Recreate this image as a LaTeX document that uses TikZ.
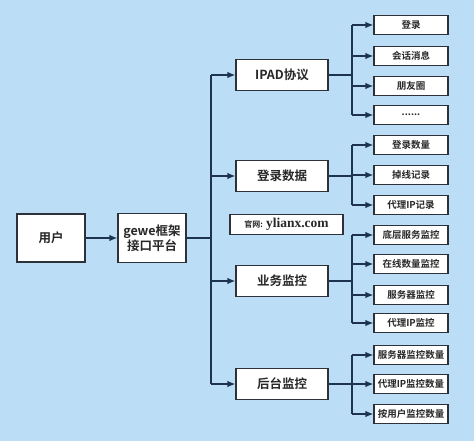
\documentclass[tikz,border=0pt]{standalone}
\usepackage{fontspec}
\newfontfamily\cjk{Noto Sans CJK SC}[BoldFont={Noto Sans CJK SC Bold}]
\usetikzlibrary{arrows.meta}
\definecolor{bg}{RGB}{187,221,246}
\definecolor{ln}{RGB}{30,52,78}
\definecolor{bd}{RGB}{45,50,58}
\definecolor{tx}{RGB}{40,40,40}
\begin{document}
\begin{tikzpicture}[x=1pt,y=-1pt,
  box/.style={draw=bd,line width=1.2pt,fill=white,inner sep=0pt,text=tx,font=\cjk\bfseries,align=center},
  bigbox/.style={box,minimum width=68pt,minimum height=48pt,font=\cjk\bfseries\fontsize{12.5}{15}\selectfont},
  midbox/.style={box,minimum width=92pt,minimum height=31pt,font=\cjk\bfseries\fontsize{12.5}{14}\selectfont},
  leaf/.style={box,minimum width=74pt,minimum height=19pt,font=\cjk\bfseries\fontsize{9.5}{11}\selectfont},
  wire/.style={draw=ln,line width=1.3pt},
  arr/.style={wire,-{Latex[length=8pt,width=6.5pt]}}]
\fill[bg] (0,0) rectangle (474,441);
\useasboundingbox (0,0) rectangle (474,441);
% level 1
\node[bigbox] (user) at (51,238) {用户};
\node[bigbox,minimum height=49pt] (gewe) at (152,238) {gewe框架\\接口平台};
% level 2
\node[midbox] (ipad) at (282,75) {IPAD协议};
\node[midbox] (login) at (282,176) {登录数据};
\node[midbox] (biz) at (282,281) {业务监控};
\node[midbox] (back) at (282,384) {后台监控};
\node[box,minimum width=113pt,minimum height=20pt] (site) at (286.5,224.5) {{\cjk\bfseries\fontsize{8}{10}\selectfont 官网:} {\fontspec{Liberation Serif}\fontsize{13.5}{14}\selectfont ylianx.com}};
% leaves
\node[leaf] (a1) at (411,25) {登录};
\node[leaf] (a2) at (411,56) {会话消息};
\node[leaf] (a3) at (411,86) {朋友圈};
\node[leaf] (a4) at (411,115) {......};
\node[leaf] (b1) at (411,145) {登录数量};
\node[leaf] (b2) at (411,175) {掉线记录};
\node[leaf] (b3) at (411,205) {代理IP记录};
\node[leaf] (c1) at (411,235) {底层服务监控};
\node[leaf] (c2) at (411,264) {在线数量监控};
\node[leaf] (c3) at (411,295) {服务器监控};
\node[leaf] (c4) at (411,323) {代理IP监控};
\node[leaf] (d1) at (411,355) {服务器监控数量};
\node[leaf] (d2) at (411,384) {代理IP监控数量};
\node[leaf] (d3) at (411,414) {按用户监控数量};
% connectors
\draw[arr] (user) -- (gewe);
\coordinate (t0) at (211,238);
\coordinate (tt) at (211,75);
\coordinate (tb) at (211,384);
\draw[wire] (gewe.east) -- (t0);
\draw[wire] (tt) -- (tb);
\foreach \n in {ipad,login,biz,back} {
  \draw[arr] (\n.west -| t0) -- (\n.west);
}
% sub buses
\coordinate (ax) at (352,0);
\draw[wire] (ipad.east) -- (ipad.east -| ax);
\draw[wire] (a1.west -| ax) -- (a4.west -| ax);
\foreach \n in {a1,a2,a3,a4} {\draw[arr] (\n.west -| ax) -- (\n.west);}
\draw[wire] (login.east) -- (login.east -| ax);
\draw[wire] (b1.west -| ax) -- (b3.west -| ax);
\foreach \n in {b1,b2,b3} {\draw[arr] (\n.west -| ax) -- (\n.west);}
\draw[wire] (biz.east) -- (biz.east -| ax);
\draw[wire] (c1.west -| ax) -- (c4.west -| ax);
\foreach \n in {c1,c2,c3,c4} {\draw[arr] (\n.west -| ax) -- (\n.west);}
\draw[wire] (back.east) -- (back.east -| ax);
\draw[wire] (d1.west -| ax) -- (d3.west -| ax);
\foreach \n in {d1,d2,d3} {\draw[arr] (\n.west -| ax) -- (\n.west);}
\end{tikzpicture}
\end{document}
